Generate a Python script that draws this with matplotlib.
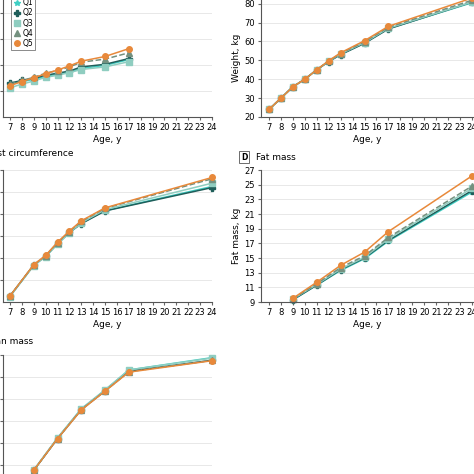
import matplotlib.pyplot as plt
from matplotlib.lines import Line2D

W = 474.0

# --- data ---
quintiles = ["Q1", "Q2", "Q3", "Q4", "Q5"]
colors = ["#3fcfc4", "#1f5e5a", "#8fcdc0", "#74907f", "#e8893b"]
markers = ["*", "P", "s", "^", "o"]
styles = ["-", "-", "-", "--", "-"]

bmi_age = [7, 8, 9, 10, 11, 12, 13, 15, 17]
bmi = {
    "Q1": [16.4, 16.8, 17.2, 17.8, 18.2, 18.6, 19.3, 19.9, 21.0],
    "Q2": [16.5, 17.0, 17.4, 18.0, 18.4, 18.8, 19.6, 20.1, 21.2],
    "Q3": [15.6, 16.3, 16.9, 17.6, 18.0, 18.5, 19.1, 19.6, 20.6],
    "Q4": [16.3, 17.0, 17.6, 18.4, 18.9, 19.6, 20.5, 21.1, 22.3],
    "Q5": [16.0, 16.8, 17.5, 18.3, 19.0, 19.8, 20.7, 21.6, 23.1],
}

wt_age = [7, 8, 9, 10, 11, 12, 13, 15, 17, 24]
weight = {
    "Q1": [24, 30, 36, 40, 45, 49.5, 53.2, 59.2, 66.8, 80.5],
    "Q2": [24, 30, 36, 40, 45, 49.3, 53.0, 59.0, 66.6, 80.8],
    "Q3": [24, 30, 36, 40, 45, 49.5, 53.4, 59.4, 67.0, 80.8],
    "Q4": [24, 30, 36, 40, 45, 49.6, 53.6, 59.8, 67.5, 81.8],
    "Q5": [24, 30, 36, 40, 45, 49.8, 54.0, 60.4, 68.0, 83.0],
}

wc_age = [7, 9, 10, 11, 12, 13, 15, 24]
waist = {
    "Q1": [52.7, 66.8, 70.8, 76.5, 81.5, 85.8, 91.5, 102.5],
    "Q2": [52.7, 66.8, 70.8, 76.6, 81.6, 85.6, 91.4, 102.0],
    "Q3": [52.5, 66.5, 70.6, 76.3, 81.4, 86.0, 92.0, 104.0],
    "Q4": [52.7, 66.9, 71.0, 76.9, 82.0, 86.6, 92.6, 106.0],
    "Q5": [52.8, 67.0, 71.2, 77.2, 82.3, 86.9, 92.8, 106.6],
}

fm_age = [9, 11, 13, 15, 17, 24]
fat = {
    "Q1": [9.3, 11.3, 13.3, 14.9, 17.3, 24.0],
    "Q2": [9.3, 11.3, 13.4, 15.0, 17.4, 24.2],
    "Q3": [9.4, 11.4, 13.5, 15.1, 17.6, 24.5],
    "Q4": [9.4, 11.5, 13.7, 15.3, 17.8, 24.8],
    "Q5": [9.5, 11.7, 14.0, 15.8, 18.6, 26.2],
}

lm_age = [9, 11, 13, 15, 17, 24]
lean = {
    "Q1": [23.8, 31.1, 37.7, 42.0, 46.6, 49.4],
    "Q2": [23.8, 31.0, 37.6, 41.9, 46.3, 48.8],
    "Q3": [23.9, 31.2, 37.8, 42.1, 46.6, 49.3],
    "Q4": [23.8, 31.0, 37.6, 41.8, 46.2, 48.8],
    "Q5": [23.8, 31.0, 37.5, 41.8, 46.1, 48.7],
}

xticks = list(range(7, 25))


def make_ax(fig, x0, y0, x1, y1):
    return fig.add_axes([x0 / W, 1 - y1 / W, (x1 - x0) / W, (y1 - y0) / W])


def style(ax, xlim, ylim, yticks):
    ax.set_xlim(*xlim)
    ax.set_ylim(*ylim)
    ax.set_xticks(xticks)
    ax.set_yticks(yticks)
    ax.tick_params(labelsize=6, length=2.5, color="#666666", pad=2)
    for s in ["top", "right"]:
        ax.spines[s].set_visible(False)
    for s in ["left", "bottom"]:
        ax.spines[s].set_color("#555555")
        ax.spines[s].set_linewidth(0.8)
    ax.grid(axis="y", color="#e8e8e8", lw=0.7)
    ax.set_axisbelow(True)
    ax.set_xlabel("Age, y", fontsize=6.5, labelpad=2)


def draw(ax, ages, data):
    for q, c, m, ls in zip(quintiles, colors, markers, styles):
        ax.plot(ages, data[q], color=c, marker=m, ls=ls, lw=1.1, ms=4, clip_on=False)


fig = plt.figure(figsize=(4.74, 4.74), dpi=100)

# A
axA = make_ax(fig, 3, -3, 212, 117)
draw(axA, bmi_age, bmi)
style(axA, (6.41, 24), (10, 33), [15, 20, 25, 30])
axA.set_yticklabels([])
handles = [Line2D([], [], color=c, marker=m, ls="none", ms=4) for c, m in zip(colors, markers)]
leg = axA.legend(handles, quintiles, loc="upper left", bbox_to_anchor=(0.02, 1.04),
                 fontsize=5.5, frameon=True, handletextpad=0.2, borderpad=0.3,
                 labelspacing=0.15, handlelength=1.0, fancybox=False)
leg.get_frame().set_edgecolor("#555555")
leg.get_frame().set_linewidth(0.6)

# B
axB = make_ax(fig, 261, -2, 474, 117)
draw(axB, wt_age, weight)
style(axB, (6.33, 24.17), (20, 83), [20, 30, 40, 50, 60, 70, 80])
axB.set_ylabel("Weight, kg", fontsize=6.5, labelpad=2)

# C
axC = make_ax(fig, 3, 170, 212, 302)
draw(axC, wc_age, waist)
style(axC, (6.41, 24), (50, 110), [60, 70, 80, 90, 100, 110])
axC.set_yticklabels([])
fig.text(-19 / W, 1 - 153 / W, "Waist circumference", fontsize=6.5, va="center")

# D
axD = make_ax(fig, 261, 170, 474, 302)
draw(axD, fm_age, fat)
style(axD, (6.33, 24.17), (9, 27), list(range(9, 28, 2)))
axD.set_ylabel("Fat mass, kg", fontsize=6.5, labelpad=2)
fig.text(241 / W, 1 - 157 / W, "D", fontsize=5.5, weight="bold", va="center",
         bbox=dict(boxstyle="square,pad=0.25", fc="white", ec="#555555", lw=0.6))
fig.text(256 / W, 1 - 157 / W, "Fat mass", fontsize=6.5, va="center")

# E
axE = make_ax(fig, 3, 355, 212, 487)
draw(axE, lm_age, lean)
style(axE, (6.41, 24), (20, 50), [25, 30, 35, 40, 45, 50])
axE.set_yticklabels([])
fig.text(-15 / W, 1 - 342 / W, "Lean mass", fontsize=6.5, va="center")

fig.savefig("out.png", dpi=100)
